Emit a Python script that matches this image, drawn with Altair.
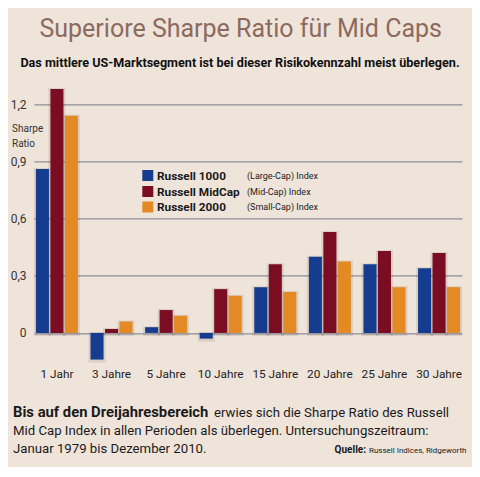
import altair as alt
import pandas as pd

# ---------------- data ----------------
periods = ["1 Jahr", "3 Jahre", "5 Jahre", "10 Jahre", "15 Jahre", "20 Jahre", "25 Jahre", "30 Jahre"]
series_names = ["Russell 1000", "Russell MidCap", "Russell 2000"]
series_suffix = ["(Large-Cap) Index", "(Mid-Cap) Index", "(Small-Cap) Index"]
r1000 = [0.86, -0.14, 0.03, -0.03, 0.24, 0.40, 0.36, 0.34]
rmid = [1.28, 0.02, 0.12, 0.23, 0.36, 0.53, 0.43, 0.42]
r2000 = [1.14, 0.06, 0.09, 0.195, 0.215, 0.375, 0.24, 0.24]
y_ticks = [0, 0.3, 0.6, 0.9, 1.2]

title_text = "Superiore Sharpe Ratio für Mid Caps"
subtitle_text = "Das mittlere US-Marktsegment ist bei dieser Risikokennzahl meist überlegen."
ylabel_lines = ["Sharpe", "Ratio"]
foot_bold = "Bis auf den Dreijahresbereich"
foot_l1 = "erwies sich die Sharpe Ratio des Russell"
foot_l2 = "Mid Cap Index in allen Perioden als überlegen. Untersuchungszeitraum:"
foot_l3 = "Januar 1979 bis Dezember 2010."
src_bold = "Quelle:"
src_text = "Russell Indices, Ridgeworth"

# ---------------- style ----------------
colors = ["#153C8E", "#7A0D22", "#E38A24"]
BG = "#EFE4DA"
FONT = "Roboto"
W, H = 428, 280

rows = []
for s, vals in zip(series_names, [r1000, rmid, r2000]):
    for p, v in zip(periods, vals):
        rows.append({"period": p, "series": s, "value": v})
df = pd.DataFrame(rows)

x_enc = alt.X(
    "period:N", sort=periods,
    scale=alt.Scale(paddingInner=0.23, paddingOuter=0.035),
    axis=alt.Axis(title=None, labelAngle=0, ticks=False, domain=False,
                  labelFont=FONT, labelFontSize=11.8, labelColor="#222222",
                  labelPadding=3, labelBaseline="top"),
)
xo_enc = alt.XOffset("series:N", sort=series_names, scale=alt.Scale(paddingInner=0.1))
y_enc = alt.Y(
    "value:Q",
    scale=alt.Scale(domain=[-0.17, 1.3], nice=False, zero=False),
    axis=alt.Axis(title=None, values=y_ticks, grid=True, gridColor="#8E8E98",
                  gridWidth=1.3, ticks=False, domain=False, labelPadding=8,
                  labelFont=FONT, labelFontSize=12, labelColor="#333333",
                  labelExpr="datum.value == 0 ? '0' : replace(format(datum.value, '.1f'), '.', ',')"),
)

shadow = alt.Chart(df).mark_bar(
    fillOpacity=0, stroke="#4a4040", strokeWidth=4, strokeOpacity=0.13, yOffset=1
).encode(x=x_enc, xOffset=xo_enc, y=y_enc)

bars = alt.Chart(df).mark_bar().encode(
    x=x_enc, xOffset=xo_enc, y=y_enc,
    color=alt.Color("series:N", sort=series_names,
                    scale=alt.Scale(domain=series_names, range=colors), legend=None),
)


def txt(text, x, y, size, weight="normal", color="#1a1a1a", align="left",
        font=FONT, baseline="alphabetic"):
    return alt.Chart(pd.DataFrame({"t": [text]})).mark_text(
        align=align, baseline=baseline, font=font, fontSize=size,
        fontWeight=weight, color=color,
    ).encode(x=alt.value(x), y=alt.value(y), text="t:N")


layers = [shadow, bars]
layers.append(txt(title_text, 206.7, -48, 25, color="#8C6A5E", align="center"))
layers.append(txt(subtitle_text, 206, -18, 12.6, weight="bold", color="#111111", align="center"))
layers.append(txt(ylabel_lines[0], -22, 46.7, 10, color="#333333"))
layers.append(txt(ylabel_lines[1], -22, 61.7, 10, color="#333333"))

leg_y = [90.2, 106.2, 121.7]
for i in range(3):
    layers.append(
        alt.Chart(pd.DataFrame({"s": [series_names[i]]})).mark_square(
            size=121, opacity=1, color=colors[i]
        ).encode(x=alt.value(113.8), y=alt.value(leg_y[i]))
    )
    layers.append(txt(series_names[i], 123, leg_y[i], 11.8, weight="bold",
                      color="#1a1a1a", baseline="middle"))
    layers.append(txt(series_suffix[i], 213, leg_y[i], 9, color="#1a1a1a", baseline="middle"))

layers.append(txt(foot_bold, -21, 331.4, 14.8, weight="bold"))
layers.append(txt(foot_l1, 180, 331.4, 13.2))
layers.append(txt(foot_l2, -21, 349.7, 13.2))
layers.append(txt(foot_l3, -21, 368, 13.2))
layers.append(txt(src_bold, 332, 367.7, 10, weight="bold", align="right"))
layers.append(txt(src_text, 335, 367.7, 8))

chart = alt.layer(*layers).properties(
    width=W, height=H,
    padding={"left": 26, "top": 77.3, "right": 10, "bottom": 101.7},
    autosize=alt.AutoSizeParams(type="none"),
).configure(background=BG).configure_view(stroke=None)

chart.save("out.html", embed_options={"renderer": "svg", "actions": False})
